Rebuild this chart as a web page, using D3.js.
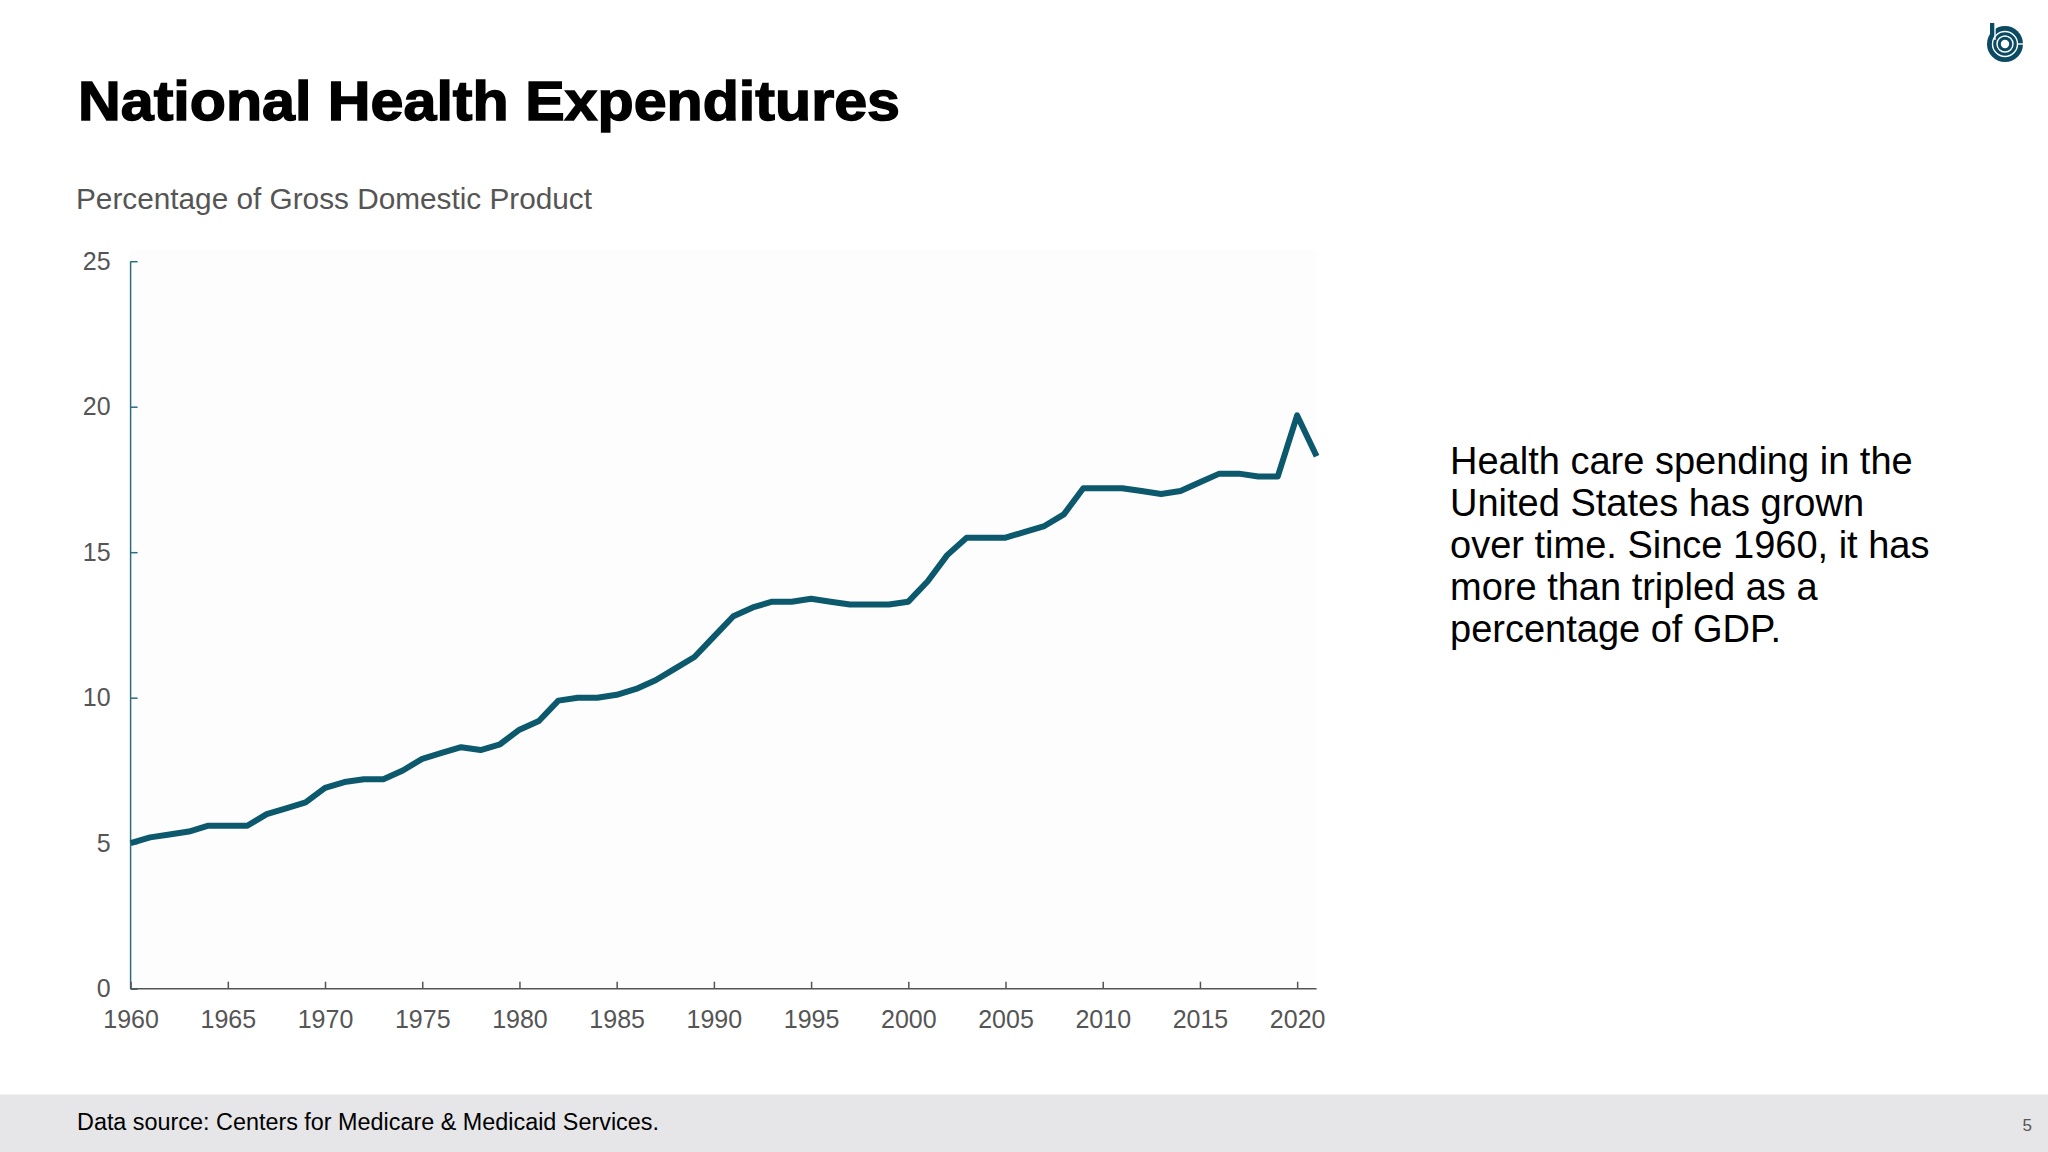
<!DOCTYPE html>
<html>
<head>
<meta charset="utf-8">
<script src="https://cdn.jsdelivr.net/npm/d3@7"></script>
<style>
  html, body { margin: 0; padding: 0; background: #ffffff; }
  svg { display: block; font-family: "Liberation Sans", Arial, sans-serif; }
</style>
</head>
<body>
<svg id="chart" width="2048" height="1152"></svg>
<script>
// ---- Data ----
const years = d3.range(1960, 2022);
const gdpShare = [
  5.0, 5.2, 5.3, 5.4, 5.6, 5.6, 5.6, 6.0, 6.2, 6.4,
  6.9, 7.1, 7.2, 7.2, 7.5, 7.9, 8.1, 8.3, 8.2, 8.4,
  8.9, 9.2, 9.9, 10.0, 10.0, 10.1, 10.3, 10.6, 11.0, 11.4,
  12.1, 12.8, 13.1, 13.3, 13.3, 13.4, 13.3, 13.2, 13.2, 13.2,
  13.3, 14.0, 14.9, 15.5, 15.5, 15.5, 15.7, 15.9, 16.3, 17.2,
  17.2, 17.2, 17.1, 17.0, 17.1, 17.4, 17.7, 17.7, 17.6, 17.6,
  19.7, 18.3
];
const xTicks = [1960, 1965, 1970, 1975, 1980, 1985, 1990, 1995, 2000, 2005, 2010, 2015, 2020];
const yTicks = [0, 5, 10, 15, 20, 25];
const titleText = "National Health Expenditures";
const subtitleText = "Percentage of Gross Domestic Product";
const noteLines = [
  "Health care spending in the",
  "United States has grown",
  "over time. Since 1960, it has",
  "more than tripled as a",
  "percentage of GDP."
];
const sourceText = "Data source: Centers for Medicare & Medicaid Services.";
const pageNumber = "5";

// ---- Layout ----
const svg = d3.select("#chart");
const W = 2048, H = 1152;
const plot = { left: 130.6, right: 1316.6, top: 261.2, bottom: 988.7 };

svg.append("rect").attr("width", W).attr("height", H).attr("fill", "#ffffff");
// plot area faint background
svg.append("rect")
  .attr("x", plot.left).attr("y", 250)
  .attr("width", plot.right - plot.left).attr("height", plot.bottom - 250)
  .attr("fill", "#fdfdfd");

const x = d3.scaleLinear().domain([1960, 2021]).range([plot.left, plot.right]);
const y = d3.scaleLinear().domain([0, 25]).range([plot.bottom, plot.top]);

// Title
svg.append("text")
  .attr("x", 78).attr("y", 120)
  .attr("font-size", 55).attr("font-weight", 700)
  .attr("fill", "#000").attr("stroke", "#000").attr("stroke-width", 1.4)
  .attr("textLength", 822).attr("lengthAdjust", "spacingAndGlyphs")
  .text(titleText);

// Subtitle
svg.append("text")
  .attr("x", 76).attr("y", 209)
  .attr("font-size", 30).attr("fill", "#555555")
  .attr("textLength", 516).attr("lengthAdjust", "spacingAndGlyphs")
  .text(subtitleText);

// Y axis
const yAxis = svg.append("g")
  .attr("transform", `translate(${plot.left},0)`)
  .call(d3.axisLeft(y).tickValues(yTicks).tickSize(-7).tickPadding(20).tickFormat(d3.format("d")));
yAxis.select(".domain").attr("stroke", "#2b6e7e").attr("stroke-width", 1.5).attr("d", `M0,${plot.top}V${plot.bottom}`);
yAxis.selectAll(".tick line").attr("stroke", "#2b6e7e").attr("stroke-width", 1.5);
yAxis.selectAll(".tick text").attr("font-size", 25).attr("fill", "#555555")
  .attr("font-family", "Liberation Sans, Arial, sans-serif");

// X axis
const xAxis = svg.append("g")
  .attr("transform", `translate(0,${plot.bottom})`)
  .call(d3.axisBottom(x).tickValues(xTicks).tickSize(-7).tickPadding(22).tickFormat(d3.format("d")));
xAxis.select(".domain").attr("stroke", "#555555").attr("stroke-width", 1.5).attr("d", `M${plot.left},0H${plot.right}`);
xAxis.selectAll(".tick line").attr("stroke", "#555555").attr("stroke-width", 1.5);
xAxis.selectAll(".tick text").attr("font-size", 25).attr("fill", "#555555")
  .attr("font-family", "Liberation Sans, Arial, sans-serif");

// Line
const data = years.map((yr, i) => ({ year: yr, v: gdpShare[i] }));
svg.append("path")
  .datum(data)
  .attr("fill", "none")
  .attr("stroke", "#0c586c")
  .attr("stroke-width", 6)
  .attr("stroke-linejoin", "round")
  .attr("stroke-linecap", "butt")
  .attr("d", d3.line().x(d => x(d.year)).y(d => y(d.v)));

// Annotation
const note = svg.append("text")
  .attr("x", 1450).attr("y", 474)
  .attr("font-size", 38).attr("fill", "#000");
noteLines.forEach((ln, i) => {
  note.append("tspan").attr("x", 1450).attr("y", 474 + i * 41.9).text(ln);
});

// Footer band
svg.append("rect")
  .attr("x", 0).attr("y", 1094.5).attr("width", W).attr("height", H - 1094.5)
  .attr("fill", "#e6e5e8");
svg.append("text")
  .attr("x", 77).attr("y", 1130)
  .attr("font-size", 23).attr("fill", "#000")
  .attr("textLength", 582).attr("lengthAdjust", "spacingAndGlyphs")
  .text(sourceText);
svg.append("text")
  .attr("x", 2032).attr("y", 1131).attr("text-anchor", "end")
  .attr("font-size", 17).attr("fill", "#555555")
  .text(pageNumber);

// Logo
const logo = svg.append("g").attr("transform", "translate(2005,44)");
logo.append("rect").attr("x", -15).attr("y", -21).attr("width", 5).attr("height", 18).attr("fill", "#0b4a63");
logo.append("circle").attr("r", 18).attr("fill", "#0b4a63");
logo.append("line").attr("x1", -10).attr("y1", -21).attr("x2", -10).attr("y2", -4)
  .attr("stroke", "#ffffff").attr("stroke-width", 1.4);
logo.append("circle").attr("r", 12.5).attr("fill", "none").attr("stroke", "#ffffff").attr("stroke-width", 1.4);
logo.append("circle").attr("r", 8).attr("fill", "none").attr("stroke", "#ffffff").attr("stroke-width", 1.4);
logo.append("circle").attr("r", 4.2).attr("fill", "#ffffff");
logo.append("line").attr("x1", 12).attr("y1", 0).attr("x2", 19).attr("y2", 0)
  .attr("stroke", "#ffffff").attr("stroke-width", 1.4);
</script>
</body>
</html>
